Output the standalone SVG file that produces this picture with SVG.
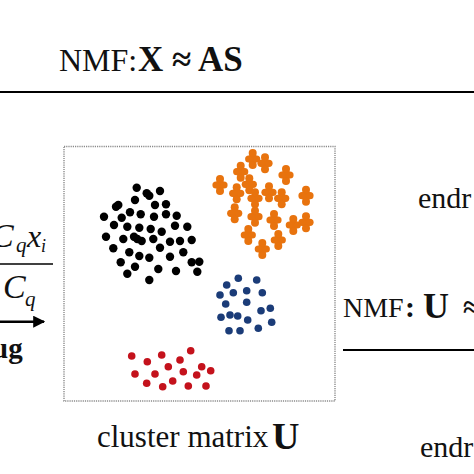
<svg xmlns="http://www.w3.org/2000/svg" width="474" height="474" viewBox="0 0 474 474">
  <style>
    .t { font-family: "Liberation Serif", "Times New Roman", serif; fill: #111; }
    .b { font-weight: bold; }
    .i { font-style: italic; }
    .k { fill: #000; }
    .bl { fill: #1B3C78; }
    .rd { fill: #C4121C; }
    .or { fill: #E8730E; }
    .rule { stroke: #000; stroke-width: 2.2; fill: none; }
  </style>
  <defs>
    <g id="dia">
      <circle cx="0" cy="0" r="5"/>
      <circle cx="0" cy="-6" r="4"/>
      <circle cx="0" cy="6" r="4"/>
      <circle cx="-4" cy="0" r="3.6"/>
      <circle cx="4" cy="0" r="3.6"/>
    </g>
    <marker id="ah" viewBox="0 0 10 10" refX="9" refY="5" markerWidth="5" markerHeight="5" orient="auto" markerUnits="strokeWidth">
      <path d="M0,0 L10,5 L0,10 Z" fill="#000"/>
    </marker>
  </defs>
  <rect width="474" height="474" fill="#fff"/>

  <g id="title">
    <text class="t" x="59" y="71" font-size="32">NMF:</text>
    <text class="t b" x="138" y="71" font-size="35">X ≈ AS</text>
  </g>

  <g id="left-equation">
    <text class="t i" x="-9" y="246.5" font-size="34">C</text>
    <text class="t i" x="16" y="252" font-size="21">q</text>
    <text class="t i" x="27" y="246.5" font-size="32">x</text>
    <text class="t i" x="41" y="252" font-size="18">i</text>
    <text class="t i" x="3" y="298" font-size="34">C</text>
    <text class="t i" x="25" y="306" font-size="21">q</text>
    <text class="t b" x="-8" y="358" font-size="29">ug</text>
  </g>

  <g id="cluster-box">
    <rect x="64" y="146.5" width="271" height="254.5" fill="none" stroke="#8a8a8a" stroke-width="1.4" stroke-dasharray="1.2 1"/>
    <g id="black-cluster" class="k">
      <circle cx="136.7" cy="187.7" r="4.2"/><circle cx="146.7" cy="193.3" r="4.2"/><circle cx="149.3" cy="195.7" r="4.2"/>
      <circle cx="160" cy="191" r="4.2"/><circle cx="118.3" cy="205" r="4.2"/><circle cx="116" cy="206.7" r="4.2"/>
      <circle cx="135" cy="200" r="4.2"/><circle cx="155" cy="205" r="4.2"/><circle cx="166" cy="204.3" r="4.2"/>
      <circle cx="104" cy="216.7" r="4.2"/><circle cx="121.7" cy="217.7" r="4.2"/><circle cx="130" cy="212.3" r="4.2"/>
      <circle cx="140.7" cy="214.3" r="4.2"/><circle cx="154" cy="216.7" r="4.2"/><circle cx="166" cy="214.3" r="4.2"/>
      <circle cx="176.7" cy="215.7" r="4.2"/><circle cx="114" cy="225" r="4.2"/><circle cx="127.3" cy="226.7" r="4.2"/>
      <circle cx="139.3" cy="227.7" r="4.2"/><circle cx="150.7" cy="229" r="4.2"/><circle cx="175" cy="225.7" r="4.2"/>
      <circle cx="187.3" cy="226.7" r="4.2"/><circle cx="106" cy="236.7" r="4.2"/><circle cx="123.3" cy="239" r="4.2"/>
      <circle cx="134" cy="236.7" r="4.2"/><circle cx="137.3" cy="239" r="4.2"/><circle cx="141.7" cy="241" r="4.2"/>
      <circle cx="153.3" cy="239" r="4.2"/><circle cx="161.7" cy="231.7" r="4.2"/><circle cx="170" cy="241.7" r="4.2"/>
      <circle cx="180" cy="241" r="4.2"/><circle cx="191.7" cy="240" r="4.2"/><circle cx="113.3" cy="248.3" r="4.2"/>
      <circle cx="129.3" cy="252.3" r="4.2"/><circle cx="139.3" cy="256" r="4.2"/><circle cx="149.3" cy="257.7" r="4.2"/>
      <circle cx="160" cy="247.7" r="4.2"/><circle cx="170" cy="256.7" r="4.2"/><circle cx="183.3" cy="252.3" r="4.2"/>
      <circle cx="120.7" cy="262.3" r="4.2"/><circle cx="135" cy="266.7" r="4.2"/><circle cx="158.3" cy="269" r="4.2"/>
      <circle cx="176" cy="271" r="4.2"/><circle cx="191.7" cy="262.3" r="4.2"/><circle cx="199.3" cy="261.7" r="4.2"/>
      <circle cx="197.3" cy="271.7" r="4.2"/><circle cx="127.3" cy="273.7" r="4.2"/><circle cx="149.3" cy="280" r="4.2"/>
    </g>
    <g id="orange-cluster" class="or">
      <use href="#dia" x="252.7" y="159"/><use href="#dia" x="265" y="163.3"/><use href="#dia" x="240.7" y="171.7"/>
      <use href="#dia" x="286" y="175"/><use href="#dia" x="249.3" y="184.3"/><use href="#dia" x="220" y="185"/>
      <use href="#dia" x="236.7" y="193.3"/><use href="#dia" x="269" y="192.3"/><use href="#dia" x="255" y="198.3"/>
      <use href="#dia" x="281.7" y="198.3"/><use href="#dia" x="306" y="195.7"/><use href="#dia" x="234.7" y="213.3"/>
      <use href="#dia" x="255" y="216.7"/><use href="#dia" x="274" y="220"/><use href="#dia" x="293.3" y="225"/>
      <use href="#dia" x="306" y="222.3"/><use href="#dia" x="248.3" y="235"/><use href="#dia" x="278.3" y="240"/>
      <use href="#dia" x="262.3" y="249"/>
    </g>
    <g id="blue-cluster" class="bl">
      <circle cx="238.3" cy="278.3" r="3.8"/><circle cx="256.7" cy="280" r="3.8"/><circle cx="226.7" cy="285" r="3.8"/>
      <circle cx="220" cy="295" r="3.8"/><circle cx="233.3" cy="292.7" r="3.8"/><circle cx="246.7" cy="290.7" r="3.8"/>
      <circle cx="262.3" cy="292.7" r="3.8"/><circle cx="225.7" cy="304" r="3.8"/><circle cx="246.7" cy="302.3" r="3.8"/>
      <circle cx="221" cy="317.3" r="3.8"/><circle cx="230" cy="315" r="3.8"/><circle cx="237.7" cy="316" r="3.8"/>
      <circle cx="247.7" cy="320" r="3.8"/><circle cx="261" cy="310.7" r="3.8"/><circle cx="270.3" cy="308.3" r="3.8"/>
      <circle cx="271.7" cy="322.3" r="3.8"/><circle cx="229" cy="330.7" r="3.8"/><circle cx="240" cy="330.7" r="3.8"/>
      <circle cx="258.3" cy="328.3" r="3.8"/>
    </g>
    <g id="red-cluster" class="rd">
      <circle cx="131.7" cy="356" r="3.8"/><circle cx="147.3" cy="361.7" r="3.8"/><circle cx="161.7" cy="355" r="3.8"/>
      <circle cx="180" cy="360" r="3.8"/><circle cx="190.7" cy="350.7" r="3.8"/><circle cx="135" cy="374" r="3.8"/>
      <circle cx="155" cy="374" r="3.8"/><circle cx="168.3" cy="366.7" r="3.8"/><circle cx="183.3" cy="371.7" r="3.8"/>
      <circle cx="201.7" cy="366.7" r="3.8"/><circle cx="210.7" cy="370.7" r="3.8"/><circle cx="196.7" cy="375" r="3.8"/>
      <circle cx="146.7" cy="383.3" r="3.8"/><circle cx="162.7" cy="386.7" r="3.8"/><circle cx="172.7" cy="381" r="3.8"/>
      <circle cx="188.3" cy="386" r="3.8"/><circle cx="206" cy="386" r="3.8"/>
    </g>
  </g>

  <g id="cluster-label">
    <text class="t" x="97" y="447" font-size="31">cluster matrix</text>
    <text class="t b" x="272" y="449" font-size="38">U</text>
  </g>

  <g id="right-equation">
    <text class="t" x="418" y="208" font-size="30">endr</text>
    <text class="t" x="343" y="317" font-size="28">NMF</text>
    <text class="t b" x="405" y="317" font-size="30">:</text>
    <text class="t b" x="423" y="318" font-size="36">U</text>
    <text class="t b" x="463" y="317" font-size="30">≈</text>
    <text class="t" x="420" y="457" font-size="30">endr</text>
  </g>

  <g id="connectors">
    <line class="rule" x1="0" y1="92" x2="474" y2="92"/>
    <line x1="0" y1="264" x2="53" y2="264" stroke="#000" stroke-width="1.6"/>
    <line x1="0" y1="321.7" x2="44" y2="321.7" stroke="#000" stroke-width="2.4" marker-end="url(#ah)"/>
    <line class="rule" x1="343" y1="350" x2="474" y2="350"/>
  </g>
</svg>
